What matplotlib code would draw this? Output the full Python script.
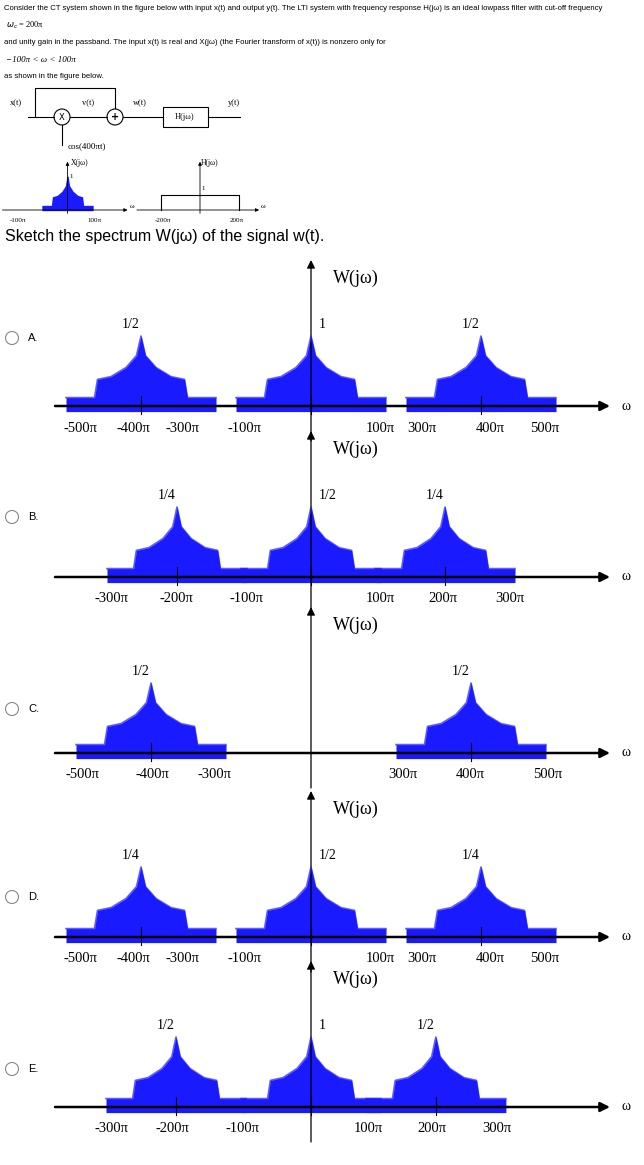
import matplotlib
matplotlib.use("Agg")
import matplotlib.pyplot as plt
from matplotlib.patches import Circle, Rectangle, FancyArrowPatch

W, H = 644, 1165
fig = plt.figure(figsize=(W/100, H/100), dpi=100)
BLUE = "#1a1aff"
SERIF = "Liberation Serif"
SANS = "Liberation Sans"

# ---------------- data ----------------
bump_off = [-1.0, -0.62, -0.58, -0.4, -0.2, -0.06, 0.0, 0.06, 0.2, 0.4, 0.58, 0.62, 1.0]
bump_amp = [0.12, 0.12, 0.38, 0.42, 0.55, 0.72, 1.0, 0.72, 0.55, 0.42, 0.38, 0.12, 0.12]

panels = [
    dict(name="A.", axis_y=406, scale=0.425, centers=[-400, 0, 400], heights=[1, 1, 1],
         peak_labels=["1/2", "1", "1/2"], halfw=75,
         ticks=["-500π", "-400π", "-300π", "-100π", "100π", "300π", "400π", "500π"],
         tick_px=[80, 133, 183, 245, 380, 422, 490, 545]),
    dict(name="B.", axis_y=577, scale=0.67, centers=[-200, 0, 200], heights=[1, 1, 1],
         peak_labels=["1/4", "1/2", "1/4"], halfw=70,
         ticks=["-300π", "-200π", "-100π", "100π", "200π", "300π"],
         tick_px=[112, 176, 247, 380, 443, 510]),
    dict(name="C.", axis_y=753, scale=0.4, centers=[-400, 400], heights=[1, 1],
         peak_labels=["1/2", "1/2"], halfw=75,
         ticks=["-500π", "-400π", "-300π", "300π", "400π", "500π"],
         tick_px=[82, 152, 215, 403, 470, 548]),
    dict(name="D.", axis_y=937, scale=0.425, centers=[-400, 0, 400], heights=[1, 1, 1],
         peak_labels=["1/4", "1/2", "1/4"], halfw=75,
         ticks=["-500π", "-400π", "-300π", "-100π", "100π", "300π", "400π", "500π"],
         tick_px=[80, 133, 183, 245, 380, 422, 490, 545]),
    dict(name="E.", axis_y=1107, scale=0.675, centers=[-200, 0, 185], heights=[1, 1, 1],
         peak_labels=["1/2", "1", "1/2"], halfw=70,
         ticks=["-300π", "-200π", "-100π", "100π", "200π", "300π"],
         tick_px=[112, 172, 243, 368, 432, 497]),
]
ORIGIN_X = 311
AMP_PX = 70

def add_px_axes(x0, y0, x1, y1):
    ax = fig.add_axes([x0/W, 1-y1/H, (x1-x0)/W, (y1-y0)/H])
    ax.set_axis_off()
    return ax

# ---------------- overlay (text, radio buttons, diagram) ----------------
ov = add_px_axes(0, 0, W, H)
ov.set_xlim(0, W); ov.set_ylim(H, 0)

ov.text(4, 8, "Consider the CT system shown in the figure below with input x(t) and output y(t). The LTI system with frequency response H(jω) is an ideal lowpass filter with cut-off frequency",
        fontsize=5.6, family=SANS, va="center")
ov.text(6, 25, r"$\omega_c$ = 200π", fontsize=6, family=SERIF, va="center")
ov.text(4, 43, "and unity gain in the passband. The input x(t) is real and X(jω) (the Fourier transform of x(t)) is nonzero only for",
        fontsize=5.6, family=SANS, va="center")
ov.text(6, 60, "−100π < ω < 100π", fontsize=6.5, family=SERIF, va="center", style="italic")
ov.text(4, 77, "as shown in the figure below.", fontsize=5.6, family=SANS, va="center")

# block diagram
yl = 117
ov.plot([28, 54], [yl, yl], color="k", lw=0.8)
ov.plot([35, 35, 115, 115], [yl, 88, 88, 108], color="k", lw=0.8)
ov.add_patch(Circle((62, yl), 8, fill=False, lw=0.8))
ov.text(62, yl, "X", ha="center", va="center", fontsize=6)
ov.add_patch(Circle((115, yl), 8, fill=False, lw=0.8))
ov.text(115, yl, "+", ha="center", va="center", fontsize=7, weight="bold")
ov.plot([70, 107], [yl, yl], color="k", lw=0.8)
ov.plot([62, 62], [125, 145], color="k", lw=0.8)
ov.add_patch(Rectangle((163, 107), 45, 20, fill=False, lw=0.8))
ov.text(185, 117, "H(jω)", ha="center", va="center", fontsize=6, family=SERIF)
ov.plot([123, 163], [yl, yl], color="k", lw=0.8)
ov.plot([208, 240], [yl, yl], color="k", lw=0.8)
ov.text(10, 105, "x(t)", fontsize=6, family=SERIF)
ov.text(82, 105, "v(t)", fontsize=6, family=SERIF)
ov.text(133, 105, "w(t)", fontsize=6, family=SERIF)
ov.text(228, 105, "y(t)", fontsize=6, family=SERIF)
ov.text(68, 148, "cos(400πt)", fontsize=6.5, family=SERIF)

# radio buttons and labels
for p in panels:
    yb = {"A.": 338, "B.": 517, "C.": 709, "D.": 897, "E.": 1069}[p["name"]]
    ov.add_patch(Circle((12, yb), 6.5, fill=False, lw=0.8, color="#888888"))
    ov.text(28, yb, p["name"], va="center", fontsize=8, family=SANS)

ov.text(5, 237, "Sketch the spectrum W(jω) of the signal w(t).", fontsize=11.5, family=SANS, va="center")

# ---------------- small spectra ----------------
def arrow(ax, x0, y0, x1, y1, lw=1.0, ms=8):
    ax.add_patch(FancyArrowPatch((x0, y0), (x1, y1), arrowstyle="-|>", mutation_scale=ms,
                                 color="k", lw=lw, shrinkA=0, shrinkB=0))

ax = add_px_axes(0, 160, 135, 225)
ax.set_xlim(-270, 270); ax.set_ylim(-0.45, 1.5)
ax.fill_between([100*v for v in bump_off], bump_amp, color=BLUE)
arrow(ax, -260, 0, 240, 0, lw=0.6, ms=5)
arrow(ax, 0, -0.1, 0, 1.45, lw=0.6, ms=5)
ax.text(15, 1.35, "X(jω)", fontsize=5.5, family=SERIF)
ax.text(8, 0.95, "1", fontsize=5, family=SERIF)
ax.text(-230, -0.35, "-100π", fontsize=5, family=SERIF)
ax.text(80, -0.35, "100π", fontsize=5, family=SERIF)
ax.text(248, 0.05, "ω", fontsize=5, family=SERIF)

ax = add_px_axes(135, 160, 265, 225)
ax.set_xlim(-330, 330); ax.set_ylim(-0.45, 1.5)
ax.plot([-200, -200, 200, 200], [0, 0.45, 0.45, 0], color="k", lw=0.8)
arrow(ax, -320, 0, 300, 0, lw=0.6, ms=5)
arrow(ax, 0, -0.1, 0, 1.45, lw=0.6, ms=5)
ax.text(5, 1.35, "H(jω)", fontsize=5.5, family=SERIF)
ax.text(8, 0.6, "1", fontsize=5, family=SERIF)
ax.text(-230, -0.35, "-200π", fontsize=5, family=SERIF)
ax.text(150, -0.35, "200π", fontsize=5, family=SERIF)
ax.text(308, 0.05, "ω", fontsize=5, family=SERIF)

# ---------------- option panels ----------------
for p in panels:
    s = p["scale"]; ay = p["axis_y"]
    x0p, x1p = 40, 630
    top, bot = ay - 150, ay + 38
    ax = add_px_axes(x0p, top, x1p, bot)
    ax.set_xlim((x0p-ORIGIN_X)/s, (x1p-ORIGIN_X)/s)
    ax.set_ylim(-38/AMP_PX, 150/AMP_PX)
    hw = p["halfw"]/s
    for c, h, lab in zip(p["centers"], p["heights"], p["peak_labels"]):
        xs = [c + o*hw for o in bump_off]
        ys = [h*a for a in bump_amp]
        ax.fill_between(xs, ys, -0.08, color=BLUE, lw=0)
        ax.plot(xs, ys, color=BLUE, lw=1.2, alpha=0.7)
        ax.plot([c, c], [-0.12, 0.15], color="k", lw=0.8, zorder=5)
        ax.text(c + (8/s if c == 0 else -10/s), h*1.12, lab, fontsize=10, family=SERIF, ha="left" if c == 0 else "center")
    arrow(ax, (55-ORIGIN_X)/s, 0, (610-ORIGIN_X)/s, 0, lw=1.8, ms=14)
    arrow(ax, 0, -35/AMP_PX, 0, 146/AMP_PX, lw=0.9, ms=12)
    ax.text(22/s, 128/AMP_PX, "W(jω)", fontsize=13, family=SERIF, va="center")
    ax.text((622-ORIGIN_X)/s, 0, "ω", fontsize=10, family=SERIF, va="center")
    for t, px in zip(p["ticks"], p["tick_px"]):
        ax.text((px-ORIGIN_X)/s, -22/AMP_PX, t, fontsize=10.5, family=SERIF, ha="center", va="center")

fig.savefig("out.png", dpi=100)
